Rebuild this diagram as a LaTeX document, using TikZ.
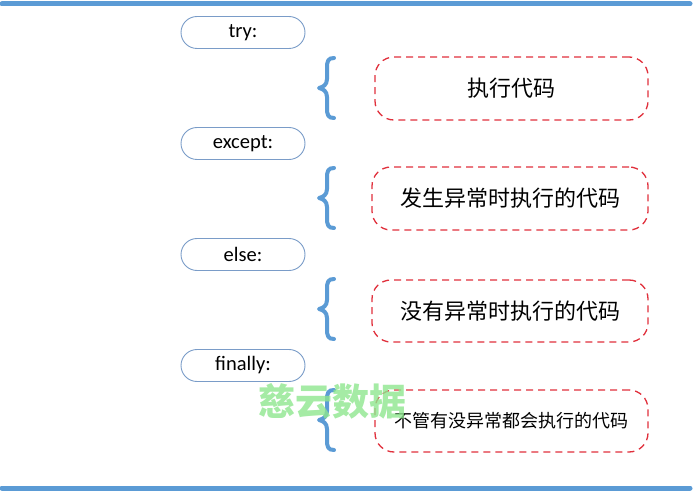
\documentclass[tikz,border=0pt]{standalone}
\usepackage{fontspec}
\setmainfont{Carlito}
\newfontfamily\cjk{Noto Sans CJK SC}
\definecolor{barblue}{HTML}{5B9BD5}
\definecolor{kwedge}{HTML}{7A9CC8}
\definecolor{dashred}{HTML}{E0303C}
\definecolor{wmgreen}{HTML}{8EE68E}
\tikzset{
  bar/.style={line width=5pt, draw=barblue, line cap=round},
  kwbox/.style={draw=kwedge, line width=0.9pt, rounded corners=16pt,
    minimum width=124pt, minimum height=32pt, inner sep=0pt,
    font=\fontsize{20.5}{24}\selectfont},
  codebox/.style={draw=dashred, line width=1.3pt, dash pattern=on 7pt off 5pt,
    rounded corners=19pt, inner sep=0pt,
    font=\cjk\fontsize{22}{26}\selectfont},
  bracecurve/.style={draw=barblue, line width=4pt, line cap=round, line join=round},
  brace/.pic={
    \draw[bracecurve] (7,-30) .. controls (1,-30) and (0,-27) .. (0,-20) -- (0,-9)
      .. controls (0,-3) and (-4,-1) .. (-8,0) .. controls (-4,1) and (0,3) .. (0,9)
      -- (0,20) .. controls (0,27) and (1,30) .. (7,30);
  }
}
\begin{document}
\begin{tikzpicture}[x=1pt,y=-1pt]
\useasboundingbox (0,0) rectangle (697,500);
\coordinate (t1) at (2,4);
\coordinate (t2) at (690,4);
\coordinate (b1) at (2,488);
\coordinate (b2) at (690,488);
\draw[bar] (t1) -- (t2);
\draw[bar] (b1) -- (b2);

\node[kwbox] (try) at (243,32.5) {try:};
\node[kwbox] (except) at (243,143.5) {except:};
\node[kwbox] (else) at (243,254.5) {else:};
\node[kwbox] (finally) at (243,365.5) {finally:};

\pic at (327,88) {brace};
\pic at (327,198) {brace};
\pic at (327,309) {brace};
\pic at (327,420) {brace};

\node[codebox, minimum width=273pt, minimum height=63pt] (c1) at (511.5,88.5) {执行代码};
\node[codebox, minimum width=276pt, minimum height=63pt] (c2) at (510,198.5) {发生异常时执行的代码};
\node[codebox, minimum width=276pt, minimum height=62pt] (c3) at (510,311) {没有异常时执行的代码};
\node[codebox, minimum width=273pt, minimum height=62pt, font=\cjk\fontsize{18}{22}\selectfont] (c4) at (511.5,421) {不管有没异常都会执行的代码};

\node[text=wmgreen, text opacity=0.8, inner sep=0pt,
  font=\cjk\bfseries\fontsize{37}{40}\selectfont] (wm) at (332,401) {慈云数据};
\end{tikzpicture}
\end{document}
